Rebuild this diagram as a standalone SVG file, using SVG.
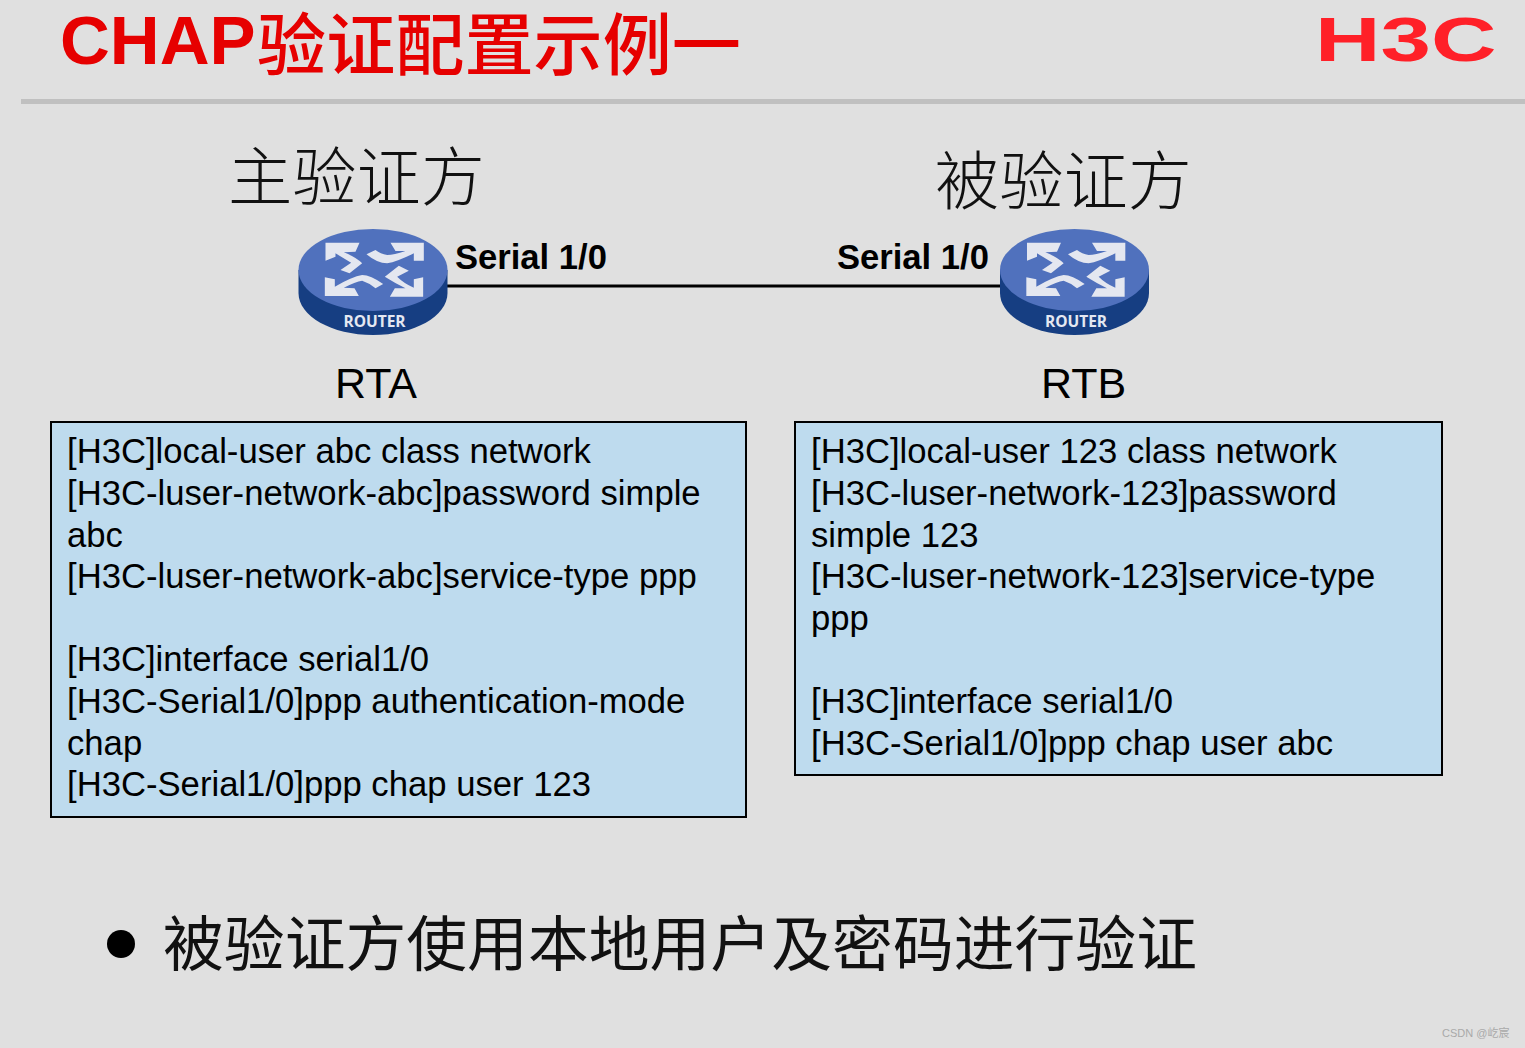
<svg xmlns="http://www.w3.org/2000/svg" width="1525" height="1048" viewBox="0 0 1525 1048">
<style>
.cn{font-family:"Noto Sans CJK SC","Liberation Sans",sans-serif;fill:#111}
.lat{font-family:"Liberation Sans",Arial,sans-serif;fill:#000}
.cfg{font-family:"Liberation Sans",Arial,sans-serif;font-size:34.67px;fill:#000}
.box{fill:#bedbee;stroke:#000;stroke-width:2}
.port{font-family:"Liberation Sans",Arial,sans-serif;font-size:34.6px;font-weight:700;fill:#000}
.side{fill:#163e82}.top{fill:#5071bd}.arr{fill:#e4e7f0}
.rt{font-family:"Open Sans","Liberation Sans",sans-serif;font-size:15.5px;font-weight:700;fill:#e4e8f2}
</style>
<defs>
<g id="router">
<path class="side" d="M0 41V64C0 87 33 106 74.500 106S149 87 149 64V41Z"/>
<ellipse class="top" cx="74.500" cy="41" rx="74.500" ry="41"/>
<g class="arr" transform="translate(-18 -9) scale(.3333)">
<path d="M135 68H237L225 95 190 97Q228 112 245 130L207 160 180 150 212 128 165 100V110L135 122Z"/>
<path d="M430 68H330L345 93H375Q340 105 320 105 300 102 285 90L258 103Q290 130 320 130 350 125 400 100V122H430Z"/>
<path d="M133 228H235L222 205 190 203Q225 185 245 182 265 188 285 205L308 192Q270 165 245 165 215 170 163 200V178L133 172Z"/>
<path d="M428 230H328L343 205H375Q345 190 313 170L355 137 385 152 350 170Q370 190 400 203V178L428 172Z"/>
</g>
<text class="rt" x="76" y="98" text-anchor="middle">ROUTER</text>
</g>
</defs>
<rect width="1525" height="1048" fill="#e0e0e0"/>
<g id="title">
<text x="60" y="64" font-family="Liberation Sans,Arial,sans-serif" font-size="69" font-weight="700" fill="#e60000">CHAP</text>
<text x="257" y="70" font-family="Noto Sans CJK SC,sans-serif" font-size="68" font-weight="500" fill="#e60000" textLength="484" lengthAdjust="spacingAndGlyphs">验证配置示例一</text>
</g>
<g id="logo">
<text transform="translate(1315 60.500) scale(1.44 1)" font-family="Liberation Sans,Arial,sans-serif" font-size="63" font-weight="700" fill="#ff2028">H3C</text>
</g>
<rect id="rule" x="21" y="99" width="1504" height="5" fill="#c0c0c0"/>
<g id="connectors">
<line x1="447" y1="286" x2="1001" y2="286" stroke="#000" stroke-width="3"/>
</g>
<g id="label-primary"><text class="cn" x="228" y="200" font-size="64" font-weight="300" textLength="257" lengthAdjust="spacingAndGlyphs">主验证方</text></g>
<g id="label-secondary"><text class="cn" x="935" y="204" font-size="64" font-weight="300" textLength="257" lengthAdjust="spacingAndGlyphs">被验证方</text></g>
<g id="RTA">
<use href="#router" x="298.500" y="229"/>
<text class="port" x="455" y="269">Serial 1/0</text>
<text class="lat" x="335" y="398" font-size="43">RTA</text>
</g>
<g id="RTB">
<use href="#router" x="1000" y="229"/>
<text class="port" x="837" y="269">Serial 1/0</text>
<text class="lat" x="1041" y="398" font-size="43">RTB</text>
</g>
<g id="config-a">
<rect class="box" x="51" y="422" width="695" height="395"/>
<text class="cfg" x="67" y="463">[H3C]local-user abc class network</text>
<text class="cfg" x="67" y="505">[H3C-luser-network-abc]password simple</text>
<text class="cfg" x="67" y="547">abc</text>
<text class="cfg" x="67" y="588">[H3C-luser-network-abc]service-type ppp</text>
<text class="cfg" x="67" y="671">[H3C]interface serial1/0</text>
<text class="cfg" x="67" y="713">[H3C-Serial1/0]ppp authentication-mode</text>
<text class="cfg" x="67" y="755">chap</text>
<text class="cfg" x="67" y="796">[H3C-Serial1/0]ppp chap user 123</text>
</g>
<g id="config-b">
<rect class="box" x="795" y="422" width="647" height="353"/>
<text class="cfg" x="811" y="463">[H3C]local-user 123 class network</text>
<text class="cfg" x="811" y="505">[H3C-luser-network-123]password</text>
<text class="cfg" x="811" y="547">simple 123</text>
<text class="cfg" x="811" y="588">[H3C-luser-network-123]service-type</text>
<text class="cfg" x="811" y="630">ppp</text>
<text class="cfg" x="811" y="713">[H3C]interface serial1/0</text>
<text class="cfg" x="811" y="755">[H3C-Serial1/0]ppp chap user abc</text>
</g>
<g id="note">
<circle cx="121" cy="944" r="14" fill="#000"/>
<text class="cn" x="163" y="966" font-size="60.500" font-weight="400" textLength="1034" lengthAdjust="spacingAndGlyphs">被验证方使用本地用户及密码进行验证</text>
</g>
<text id="watermark" x="1442" y="1037" font-family="Liberation Sans,Noto Sans CJK SC,sans-serif" font-size="11" fill="#a9a9a9">CSDN @<tspan font-family="Noto Sans CJK SC,sans-serif">屹宸</tspan></text>
</svg>
